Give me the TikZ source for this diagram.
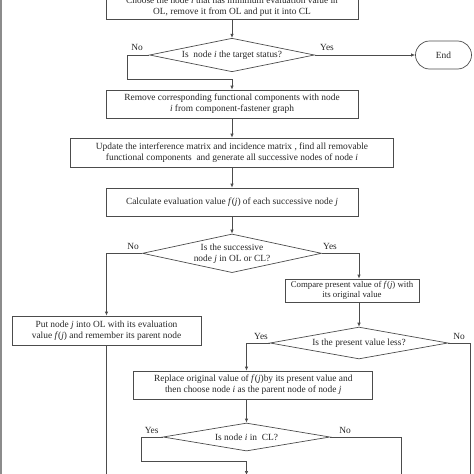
\documentclass[tikz,border=0pt]{standalone}
\usepackage{fontspec}
\setmainfont{Liberation Serif}
\usetikzlibrary{shapes.geometric,arrows.meta,calc}
\begin{document}
\begin{tikzpicture}[x=1pt,y=-1pt,
  line width=0.7pt,
  every node/.style={font=\fontsize{9.4}{11}\selectfont, text=black!85, align=center},
  box/.style={draw=black!70, rectangle, inner sep=1pt},
  dec/.style={draw=black!70, diamond, inner sep=0pt, aspect=4},
  term/.style={draw=black!70, rectangle, rounded corners=14pt},
  lab/.style={anchor=south, inner sep=1.5pt},
  conn/.style={draw=black!70},
  arr/.style={draw=black!70, -{Latex[length=4pt,width=3.5pt]}}
]
\useasboundingbox (0,0) rectangle (474,474);
\clip (0,0) rectangle (474,474);
\fill[black!45] (0,0) rectangle (2,474);

\node[box, minimum width=252pt, minimum height=24pt] (b1) at (232,7)
  {Choose the node \textit{i} that has minimum evaluation value in\\OL, remove it from OL and put it into CL};
\node[dec, minimum width=165pt, minimum height=28pt] (d1) at (232,55)
  {Is\ \ node \textit{i} the target status?};
\node[term, minimum width=56pt, minimum height=28pt] (end) at (443.5,55) {End};
\node[box, minimum width=252pt, minimum height=28pt] (b2) at (232,104)
  {Remove corresponding functional components with node\\\textit{i} from component-fastener graph};
\node[box, minimum width=323pt, minimum height=29pt] (b3) at (232,152.5)
  {Update the interference matrix and incidence matrix , find all removable\\functional components\ \ and generate all successive nodes of node \textit{i}};
\node[box, minimum width=252pt, minimum height=28pt] (b4) at (232,202)
  {Calculate evaluation value \textit{f}(\textit{j}) of each successive node \textit{j}};
\node[dec, minimum width=179pt, minimum height=37pt] (d2) at (232,253.3)
  {Is the successive\\node \textit{j} in OL or CL?};
\node[box, minimum width=189pt, minimum height=29pt] (b5) at (106.5,330.5)
  {Put node \textit{j} into OL with its evaluation\\value \textit{f}(\textit{j}) and remember its parent node};
\node[box, minimum width=134pt, minimum height=23pt, inner sep=0pt,
      font=\fontsize{8.8}{9.8}\selectfont] (b6) at (352,290.5)
  {Compare present value of \textit{f}(\textit{j}) with\\its original value};
\node[dec, minimum width=178pt, minimum height=28pt] (d3) at (359,343)
  {Is the present value less?};
\node[box, minimum width=239pt, minimum height=28pt] (b7) at (253.3,385)
  {Replace original value of \textit{f}(\textit{j})by its present value and\\then choose node \textit{i} as the parent node of node \textit{j}};
\node[dec, minimum width=167pt, minimum height=28pt] (d4) at (246.5,437)
  {Is node \textit{i} in\ \ CL?};

\coordinate (c1) at (127,79);
\coordinate (c2) at (141.7,461);
\coordinate (e1) at (246.5,474);
\coordinate (e2) at (401,474);
\coordinate (e3) at (470.5,474);
\coordinate (e4) at (106.5,474);

\draw[arr] (b1.south) -- (d1.north);
\draw[arr] (d1.east) -- (end.west);
\draw[conn] (d1.west) -| (c1) -- (c1 -| b2.north);
\draw[arr] (c1 -| b2.north) -- (b2.north);
\draw[arr] (b2.south) -- (b3.north);
\draw[arr] (b3.south) -- (b4.north);
\draw[arr] (b4.south) -- (d2.north);
\draw[arr] (d2.west) -| (b5.north);
\draw[arr] (d2.east) -| (d3.north |- b6.north);
\draw[arr] (d3.north |- b6.south) -- (d3.north);
\draw[arr] (d3.west) -| (d4.north |- b7.north);
\draw[arr] (d4.north |- b7.south) -- (d4.north);
\draw[conn] (d3.east) -| (e3);
\draw[conn] (d4.east) -| (e2);
\draw[conn] (d4.west) -| (c2) -- (c2 -| e1);
\draw[arr] (c2 -| e1) -- ($(e1)+(0,1)$);
\draw[conn] (b5.south) -- (e4);

\node[lab] at (137,52) {No};
\node[lab] at (327,52) {Yes};
\node[lab] at (133,251) {No};
\node[lab] at (330,251) {Yes};
\node[lab] at (261,341) {Yes};
\node[lab] at (459,341) {No};
\node[lab] at (151.7,435) {Yes};
\node[lab] at (345,435) {No};
\end{tikzpicture}
\end{document}
